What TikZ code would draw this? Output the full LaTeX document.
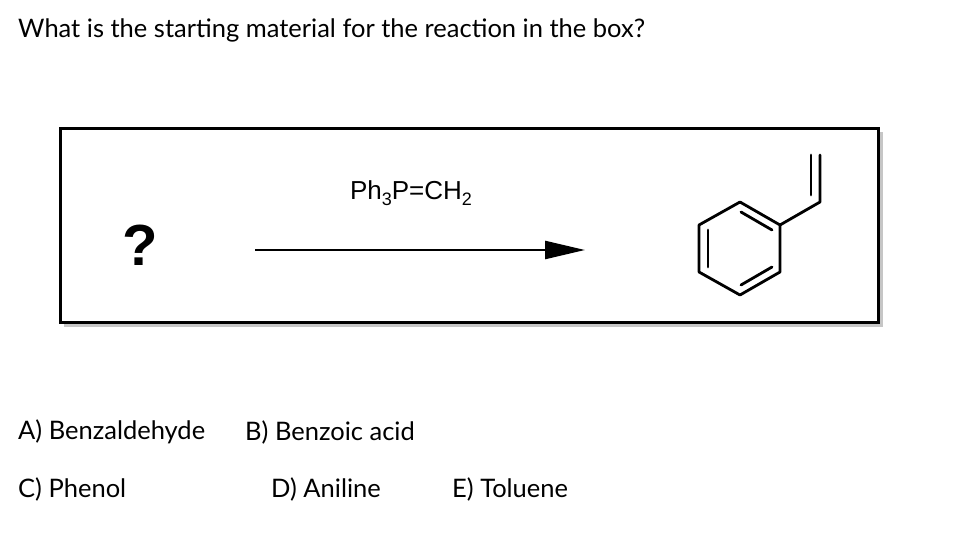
\documentclass[tikz,border=0pt]{standalone}
\usepackage{fontspec}
\setmainfont{Lato}
\newfontfamily\helv{Liberation Sans}
\newcommand{\mysub}[1]{\raisebox{-0.25em}{\fontsize{18}{18}\selectfont #1}}
\usetikzlibrary{arrows.meta}
\begin{document}
\begin{tikzpicture}[x=1pt,y=-1pt,
  bond/.style={line width=2.8pt,line cap=round,line join=round},
  txt/.style={anchor=west,inner sep=0pt,font=\fontsize{25.5}{28}\selectfont}]
\useasboundingbox (0,0) rectangle (980,554);
\fill[gray!45] (64,132) rectangle (883,327);
\draw[line width=3pt,fill=white] (60,128) rectangle (878,322);
\node[txt] (q) at (18,30) {What is the starting material for the reaction in the box?};
\node[font=\helv\bfseries\fontsize{58}{60}\selectfont,inner sep=0pt] (qm) at (140,245) {?};
\coordinate (a1) at (255,250);
\coordinate (a2) at (585,250);
\draw[line width=2.5pt,-{Triangle[length=40pt,width=18pt]}] (a1) -- (a2);
\node[font=\helv\fontsize{26}{28}\selectfont,inner sep=0pt] (rg) at (411,193) {Ph\mysub{3}P=CH\mysub{2}};
\coordinate (t) at (740,202); \coordinate (ur) at (780,225); \coordinate (lr) at (780,272);
\coordinate (b) at (740,295); \coordinate (ll) at (699,272); \coordinate (ul) at (699,225);
\draw[bond] (t)--(ur)--(lr)--(b)--(ll)--(ul)--cycle;
\draw[bond] (741,212)--(772,230);
\draw[bond] (708,230)--(708,267);
\draw[bond] (741,285)--(772,267);
\coordinate (v1) at (820,202); \coordinate (v2) at (820,155);
\draw[bond] (ur)--(v1)--(v2);
\draw[bond] (811,195)--(811,155);
\node[txt] (A) at (18,432) {A) Benzaldehyde};
\node[txt] (B) at (245,432) {B) Benzoic acid};
\node[txt] (C) at (18,489) {C) Phenol};
\node[txt] (D) at (271,489) {D) Aniline};
\node[txt] (E) at (452,489) {E) Toluene};
\end{tikzpicture}
\end{document}
